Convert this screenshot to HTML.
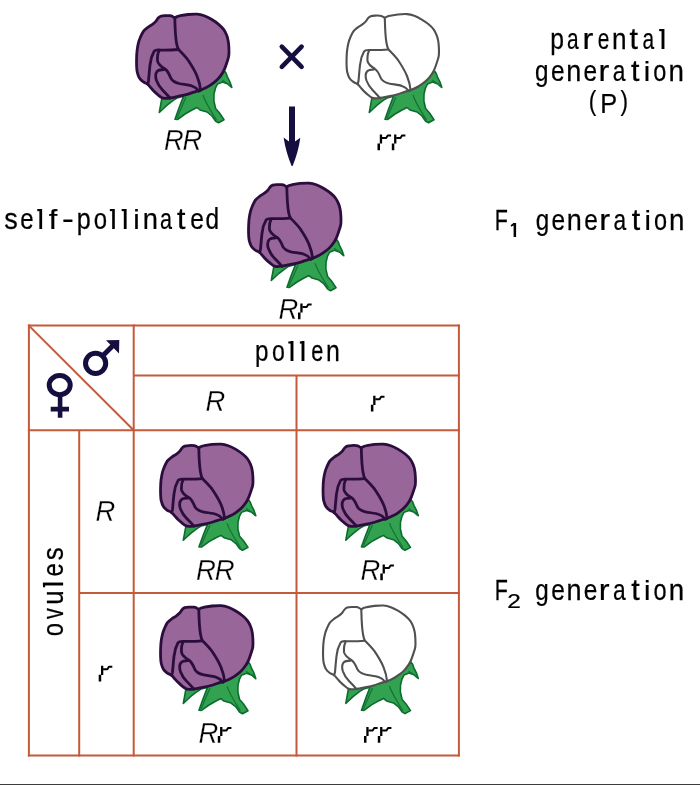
<!DOCTYPE html>
<html><head><meta charset="utf-8"><style>
html,body{margin:0;padding:0;background:#fff;width:700px;height:785px;overflow:hidden;}
svg{display:block;filter:blur(0.4px);}
#bl{position:absolute;left:0;top:784px;width:700px;height:1px;background:#3d3d3d;}
</style></head><body><svg width="700" height="785" viewBox="0 0 700 785"><line x1="27.9" y1="325.6" x2="459.9" y2="325.6" stroke="#c45a3a" stroke-width="2"/><line x1="133.7" y1="375.6" x2="459.9" y2="375.6" stroke="#c45a3a" stroke-width="2"/><line x1="27.9" y1="430.3" x2="459.9" y2="430.3" stroke="#c45a3a" stroke-width="2"/><line x1="79.2" y1="593" x2="459.9" y2="593" stroke="#c45a3a" stroke-width="2"/><line x1="27.9" y1="755.5" x2="459.9" y2="755.5" stroke="#c45a3a" stroke-width="2"/><line x1="28.9" y1="324.6" x2="28.9" y2="756.5" stroke="#c45a3a" stroke-width="2"/><line x1="79.2" y1="430.3" x2="79.2" y2="756.5" stroke="#c45a3a" stroke-width="2"/><line x1="133.7" y1="324.6" x2="133.7" y2="756.5" stroke="#c45a3a" stroke-width="2"/><line x1="296.5" y1="375.6" x2="296.5" y2="756.5" stroke="#c45a3a" stroke-width="2"/><line x1="458.9" y1="324.6" x2="458.9" y2="756.5" stroke="#c45a3a" stroke-width="2"/><line x1="28.9" y1="325.6" x2="133.7" y2="430.3" stroke="#c45a3a" stroke-width="2"/><g transform="translate(0,0) translate(0,13) scale(1,1.0) translate(0,-13)"><path d="M162,97.5 L159.3,112.5 L163,109 L167.1,105.2 L173.2,100.4 L177,98 L183.5,96.3 L179,108 L175,119.3 L177.5,119.5 L185,114 L192,110 L197,107.5 L200,110 L207,112 L212,116 L215.5,121 L218.5,122.8 L224,119.8 L219.5,113 L215.6,108.5 L213.9,101 L214,94 L215.5,88 L217.5,84 L222.5,82 L228,84 L231.8,87.5 L230,82 L227.5,77 L226,73 L224.5,71 L215,81 L208,87 L199,91 L190,93 L180,95 L170,97 Z" fill="#32a250" stroke="#0c6c2e" stroke-width="1.6" stroke-linejoin="round"/><path d="M186,97 C183,104 180,111 177,118" fill="none" stroke="#127435" stroke-width="1.2"/><path d="M203,95 C205,102 209,108 216.5,120" fill="none" stroke="#127435" stroke-width="1.2"/><path d="M222,80 C225.5,82 228.5,84 231,87" fill="none" stroke="#127435" stroke-width="1.2"/><path d="M174.80,17.90 C175.60,17.47 176.33,16.95 177.20,16.60 C178.07,16.25 178.20,16.15 180.00,15.80 C181.80,15.45 185.17,14.78 188.00,14.50 C190.83,14.22 194.28,13.88 197.00,14.10 C199.72,14.32 201.90,14.93 204.30,15.80 C206.70,16.67 209.02,17.88 211.40,19.30 C213.78,20.72 216.57,22.62 218.60,24.30 C220.63,25.98 222.27,27.60 223.60,29.40 C224.93,31.20 225.83,33.18 226.60,35.10 C227.37,37.02 227.82,38.75 228.20,40.90 C228.58,43.05 228.80,45.53 228.90,48.00 C229.00,50.47 229.08,53.45 228.80,55.70 C228.52,57.95 227.90,59.30 227.20,61.50 C226.50,63.70 225.50,66.80 224.60,68.90 C223.70,71.00 223.03,72.28 221.80,74.10 C220.57,75.92 218.92,78.08 217.20,79.80 C215.48,81.52 213.42,83.07 211.50,84.40 C209.58,85.73 207.62,86.83 205.70,87.80 C203.78,88.77 202.12,89.43 200.00,90.20 C197.88,90.97 195.17,91.70 193.00,92.40 C190.83,93.10 189.83,93.67 187.00,94.40 C184.17,95.13 178.83,96.22 176.00,96.80 C173.17,97.38 171.83,97.63 170.00,97.90 C168.17,98.17 166.42,98.47 165.00,98.40 C163.58,98.33 162.63,98.07 161.50,97.50 C160.37,96.93 159.45,96.05 158.20,95.00 C156.95,93.95 155.25,92.43 154.00,91.20 C152.75,89.97 151.77,88.77 150.70,87.60 C149.63,86.43 148.88,85.18 147.60,84.20 C146.32,83.22 144.37,82.73 143.00,81.70 C141.63,80.67 140.37,79.62 139.40,78.00 C138.43,76.38 137.67,74.07 137.20,72.00 C136.73,69.93 136.70,67.93 136.60,65.60 C136.50,63.27 136.52,60.55 136.60,58.00 C136.68,55.45 136.78,52.85 137.10,50.30 C137.42,47.75 137.97,44.83 138.50,42.70 C139.03,40.57 139.48,39.40 140.30,37.50 C141.12,35.60 142.13,33.00 143.40,31.30 C144.67,29.60 146.45,28.42 147.90,27.30 C149.35,26.18 150.82,25.55 152.10,24.60 C153.38,23.65 154.58,22.70 155.60,21.60 C156.62,20.50 157.33,18.90 158.20,18.00 C159.07,17.10 159.67,16.60 160.80,16.20 C161.93,15.80 163.47,15.68 165.00,15.60 C166.53,15.52 168.75,15.55 170.00,15.70 C171.25,15.85 171.70,16.13 172.50,16.50 C173.30,16.87 174.03,17.43 174.80,17.90 Z" fill="#996699" stroke="#2c0e3e" stroke-width="2.8" stroke-linejoin="round"/><path d="M174.8,17.9 C175,24 175,34 176.5,43 C177,46 177.5,48 178.5,49.5 C181,52 185,56 188,60 C192,66 195,71 197,76 C199,81 200.3,86 200.6,90.3" fill="none" stroke="#2c0e3e" stroke-width="2.8" stroke-linecap="round" stroke-linejoin="round"/><path d="M178.5,49.5 C172,50 166,50.2 160,50 C157,49.8 155,50 154,51.5 C152,55 150.5,60 150,65 C149.2,72 148.8,78 148.5,81 C148.2,82.5 147.8,83.5 147.6,84.2" fill="none" stroke="#2c0e3e" stroke-width="2.8" stroke-linecap="round" stroke-linejoin="round"/><path d="M159,51 C157.8,53 157.3,57 157.5,61 C158,63.5 161,66.5 165,69 C168,71 169.5,75 171,78.5 C172.5,81 175,82.5 179,83.5 C184,84.5 189,84.8 192,86 C195,87 197,88.5 199,91.2" fill="none" stroke="#2c0e3e" stroke-width="2.8" stroke-linecap="round" stroke-linejoin="round"/><path d="M164,69.5 C161,69.5 158.5,69.8 157,71.5 C155.5,73.5 155.3,77 156.5,80.5 C158,84.5 160,87.5 162.5,90 C165,92.5 167.5,95 170,98.2" fill="none" stroke="#2c0e3e" stroke-width="2.8" stroke-linecap="round" stroke-linejoin="round"/></g><g transform="translate(210,0) translate(0,13) scale(1,1.0) translate(0,-13)"><path d="M162,97.5 L159.3,112.5 L163,109 L167.1,105.2 L173.2,100.4 L177,98 L183.5,96.3 L179,108 L175,119.3 L177.5,119.5 L185,114 L192,110 L197,107.5 L200,110 L207,112 L212,116 L215.5,121 L218.5,122.8 L224,119.8 L219.5,113 L215.6,108.5 L213.9,101 L214,94 L215.5,88 L217.5,84 L222.5,82 L228,84 L231.8,87.5 L230,82 L227.5,77 L226,73 L224.5,71 L215,81 L208,87 L199,91 L190,93 L180,95 L170,97 Z" fill="#32a250" stroke="#0c6c2e" stroke-width="1.6" stroke-linejoin="round"/><path d="M186,97 C183,104 180,111 177,118" fill="none" stroke="#127435" stroke-width="1.2"/><path d="M203,95 C205,102 209,108 216.5,120" fill="none" stroke="#127435" stroke-width="1.2"/><path d="M222,80 C225.5,82 228.5,84 231,87" fill="none" stroke="#127435" stroke-width="1.2"/><path d="M174.80,17.90 C175.60,17.47 176.33,16.95 177.20,16.60 C178.07,16.25 178.20,16.15 180.00,15.80 C181.80,15.45 185.17,14.78 188.00,14.50 C190.83,14.22 194.28,13.88 197.00,14.10 C199.72,14.32 201.90,14.93 204.30,15.80 C206.70,16.67 209.02,17.88 211.40,19.30 C213.78,20.72 216.57,22.62 218.60,24.30 C220.63,25.98 222.27,27.60 223.60,29.40 C224.93,31.20 225.83,33.18 226.60,35.10 C227.37,37.02 227.82,38.75 228.20,40.90 C228.58,43.05 228.80,45.53 228.90,48.00 C229.00,50.47 229.08,53.45 228.80,55.70 C228.52,57.95 227.90,59.30 227.20,61.50 C226.50,63.70 225.50,66.80 224.60,68.90 C223.70,71.00 223.03,72.28 221.80,74.10 C220.57,75.92 218.92,78.08 217.20,79.80 C215.48,81.52 213.42,83.07 211.50,84.40 C209.58,85.73 207.62,86.83 205.70,87.80 C203.78,88.77 202.12,89.43 200.00,90.20 C197.88,90.97 195.17,91.70 193.00,92.40 C190.83,93.10 189.83,93.67 187.00,94.40 C184.17,95.13 178.83,96.22 176.00,96.80 C173.17,97.38 171.83,97.63 170.00,97.90 C168.17,98.17 166.42,98.47 165.00,98.40 C163.58,98.33 162.63,98.07 161.50,97.50 C160.37,96.93 159.45,96.05 158.20,95.00 C156.95,93.95 155.25,92.43 154.00,91.20 C152.75,89.97 151.77,88.77 150.70,87.60 C149.63,86.43 148.88,85.18 147.60,84.20 C146.32,83.22 144.37,82.73 143.00,81.70 C141.63,80.67 140.37,79.62 139.40,78.00 C138.43,76.38 137.67,74.07 137.20,72.00 C136.73,69.93 136.70,67.93 136.60,65.60 C136.50,63.27 136.52,60.55 136.60,58.00 C136.68,55.45 136.78,52.85 137.10,50.30 C137.42,47.75 137.97,44.83 138.50,42.70 C139.03,40.57 139.48,39.40 140.30,37.50 C141.12,35.60 142.13,33.00 143.40,31.30 C144.67,29.60 146.45,28.42 147.90,27.30 C149.35,26.18 150.82,25.55 152.10,24.60 C153.38,23.65 154.58,22.70 155.60,21.60 C156.62,20.50 157.33,18.90 158.20,18.00 C159.07,17.10 159.67,16.60 160.80,16.20 C161.93,15.80 163.47,15.68 165.00,15.60 C166.53,15.52 168.75,15.55 170.00,15.70 C171.25,15.85 171.70,16.13 172.50,16.50 C173.30,16.87 174.03,17.43 174.80,17.90 Z" fill="#ffffff" stroke="#505050" stroke-width="2.1" stroke-linejoin="round"/><path d="M174.8,17.9 C175,24 175,34 176.5,43 C177,46 177.5,48 178.5,49.5 C181,52 185,56 188,60 C192,66 195,71 197,76 C199,81 200.3,86 200.6,90.3" fill="none" stroke="#505050" stroke-width="2.1" stroke-linecap="round" stroke-linejoin="round"/><path d="M178.5,49.5 C172,50 166,50.2 160,50 C157,49.8 155,50 154,51.5 C152,55 150.5,60 150,65 C149.2,72 148.8,78 148.5,81 C148.2,82.5 147.8,83.5 147.6,84.2" fill="none" stroke="#505050" stroke-width="2.1" stroke-linecap="round" stroke-linejoin="round"/><path d="M159,51 C157.8,53 157.3,57 157.5,61 C158,63.5 161,66.5 165,69 C168,71 169.5,75 171,78.5 C172.5,81 175,82.5 179,83.5 C184,84.5 189,84.8 192,86 C195,87 197,88.5 199,91.2" fill="none" stroke="#505050" stroke-width="2.1" stroke-linecap="round" stroke-linejoin="round"/><path d="M164,69.5 C161,69.5 158.5,69.8 157,71.5 C155.5,73.5 155.3,77 156.5,80.5 C158,84.5 160,87.5 162.5,90 C165,92.5 167.5,95 170,98.2" fill="none" stroke="#505050" stroke-width="2.1" stroke-linecap="round" stroke-linejoin="round"/></g><g transform="translate(112,169) translate(0,13) scale(1,0.99) translate(0,-13)"><path d="M162,97.5 L159.3,112.5 L163,109 L167.1,105.2 L173.2,100.4 L177,98 L183.5,96.3 L179,108 L175,119.3 L177.5,119.5 L185,114 L192,110 L197,107.5 L200,110 L207,112 L212,116 L215.5,121 L218.5,122.8 L224,119.8 L219.5,113 L215.6,108.5 L213.9,101 L214,94 L215.5,88 L217.5,84 L222.5,82 L228,84 L231.8,87.5 L230,82 L227.5,77 L226,73 L224.5,71 L215,81 L208,87 L199,91 L190,93 L180,95 L170,97 Z" fill="#32a250" stroke="#0c6c2e" stroke-width="1.6" stroke-linejoin="round"/><path d="M186,97 C183,104 180,111 177,118" fill="none" stroke="#127435" stroke-width="1.2"/><path d="M203,95 C205,102 209,108 216.5,120" fill="none" stroke="#127435" stroke-width="1.2"/><path d="M222,80 C225.5,82 228.5,84 231,87" fill="none" stroke="#127435" stroke-width="1.2"/><path d="M174.80,17.90 C175.60,17.47 176.33,16.95 177.20,16.60 C178.07,16.25 178.20,16.15 180.00,15.80 C181.80,15.45 185.17,14.78 188.00,14.50 C190.83,14.22 194.28,13.88 197.00,14.10 C199.72,14.32 201.90,14.93 204.30,15.80 C206.70,16.67 209.02,17.88 211.40,19.30 C213.78,20.72 216.57,22.62 218.60,24.30 C220.63,25.98 222.27,27.60 223.60,29.40 C224.93,31.20 225.83,33.18 226.60,35.10 C227.37,37.02 227.82,38.75 228.20,40.90 C228.58,43.05 228.80,45.53 228.90,48.00 C229.00,50.47 229.08,53.45 228.80,55.70 C228.52,57.95 227.90,59.30 227.20,61.50 C226.50,63.70 225.50,66.80 224.60,68.90 C223.70,71.00 223.03,72.28 221.80,74.10 C220.57,75.92 218.92,78.08 217.20,79.80 C215.48,81.52 213.42,83.07 211.50,84.40 C209.58,85.73 207.62,86.83 205.70,87.80 C203.78,88.77 202.12,89.43 200.00,90.20 C197.88,90.97 195.17,91.70 193.00,92.40 C190.83,93.10 189.83,93.67 187.00,94.40 C184.17,95.13 178.83,96.22 176.00,96.80 C173.17,97.38 171.83,97.63 170.00,97.90 C168.17,98.17 166.42,98.47 165.00,98.40 C163.58,98.33 162.63,98.07 161.50,97.50 C160.37,96.93 159.45,96.05 158.20,95.00 C156.95,93.95 155.25,92.43 154.00,91.20 C152.75,89.97 151.77,88.77 150.70,87.60 C149.63,86.43 148.88,85.18 147.60,84.20 C146.32,83.22 144.37,82.73 143.00,81.70 C141.63,80.67 140.37,79.62 139.40,78.00 C138.43,76.38 137.67,74.07 137.20,72.00 C136.73,69.93 136.70,67.93 136.60,65.60 C136.50,63.27 136.52,60.55 136.60,58.00 C136.68,55.45 136.78,52.85 137.10,50.30 C137.42,47.75 137.97,44.83 138.50,42.70 C139.03,40.57 139.48,39.40 140.30,37.50 C141.12,35.60 142.13,33.00 143.40,31.30 C144.67,29.60 146.45,28.42 147.90,27.30 C149.35,26.18 150.82,25.55 152.10,24.60 C153.38,23.65 154.58,22.70 155.60,21.60 C156.62,20.50 157.33,18.90 158.20,18.00 C159.07,17.10 159.67,16.60 160.80,16.20 C161.93,15.80 163.47,15.68 165.00,15.60 C166.53,15.52 168.75,15.55 170.00,15.70 C171.25,15.85 171.70,16.13 172.50,16.50 C173.30,16.87 174.03,17.43 174.80,17.90 Z" fill="#996699" stroke="#2c0e3e" stroke-width="2.8" stroke-linejoin="round"/><path d="M174.8,17.9 C175,24 175,34 176.5,43 C177,46 177.5,48 178.5,49.5 C181,52 185,56 188,60 C192,66 195,71 197,76 C199,81 200.3,86 200.6,90.3" fill="none" stroke="#2c0e3e" stroke-width="2.8" stroke-linecap="round" stroke-linejoin="round"/><path d="M178.5,49.5 C172,50 166,50.2 160,50 C157,49.8 155,50 154,51.5 C152,55 150.5,60 150,65 C149.2,72 148.8,78 148.5,81 C148.2,82.5 147.8,83.5 147.6,84.2" fill="none" stroke="#2c0e3e" stroke-width="2.8" stroke-linecap="round" stroke-linejoin="round"/><path d="M159,51 C157.8,53 157.3,57 157.5,61 C158,63.5 161,66.5 165,69 C168,71 169.5,75 171,78.5 C172.5,81 175,82.5 179,83.5 C184,84.5 189,84.8 192,86 C195,87 197,88.5 199,91.2" fill="none" stroke="#2c0e3e" stroke-width="2.8" stroke-linecap="round" stroke-linejoin="round"/><path d="M164,69.5 C161,69.5 158.5,69.8 157,71.5 C155.5,73.5 155.3,77 156.5,80.5 C158,84.5 160,87.5 162.5,90 C165,92.5 167.5,95 170,98.2" fill="none" stroke="#2c0e3e" stroke-width="2.8" stroke-linecap="round" stroke-linejoin="round"/></g><g transform="translate(24,430) translate(0,13) scale(1,0.977) translate(0,-13)"><path d="M162,97.5 L159.3,112.5 L163,109 L167.1,105.2 L173.2,100.4 L177,98 L183.5,96.3 L179,108 L175,119.3 L177.5,119.5 L185,114 L192,110 L197,107.5 L200,110 L207,112 L212,116 L215.5,121 L218.5,122.8 L224,119.8 L219.5,113 L215.6,108.5 L213.9,101 L214,94 L215.5,88 L217.5,84 L222.5,82 L228,84 L231.8,87.5 L230,82 L227.5,77 L226,73 L224.5,71 L215,81 L208,87 L199,91 L190,93 L180,95 L170,97 Z" fill="#32a250" stroke="#0c6c2e" stroke-width="1.6" stroke-linejoin="round"/><path d="M186,97 C183,104 180,111 177,118" fill="none" stroke="#127435" stroke-width="1.2"/><path d="M203,95 C205,102 209,108 216.5,120" fill="none" stroke="#127435" stroke-width="1.2"/><path d="M222,80 C225.5,82 228.5,84 231,87" fill="none" stroke="#127435" stroke-width="1.2"/><path d="M174.80,17.90 C175.60,17.47 176.33,16.95 177.20,16.60 C178.07,16.25 178.20,16.15 180.00,15.80 C181.80,15.45 185.17,14.78 188.00,14.50 C190.83,14.22 194.28,13.88 197.00,14.10 C199.72,14.32 201.90,14.93 204.30,15.80 C206.70,16.67 209.02,17.88 211.40,19.30 C213.78,20.72 216.57,22.62 218.60,24.30 C220.63,25.98 222.27,27.60 223.60,29.40 C224.93,31.20 225.83,33.18 226.60,35.10 C227.37,37.02 227.82,38.75 228.20,40.90 C228.58,43.05 228.80,45.53 228.90,48.00 C229.00,50.47 229.08,53.45 228.80,55.70 C228.52,57.95 227.90,59.30 227.20,61.50 C226.50,63.70 225.50,66.80 224.60,68.90 C223.70,71.00 223.03,72.28 221.80,74.10 C220.57,75.92 218.92,78.08 217.20,79.80 C215.48,81.52 213.42,83.07 211.50,84.40 C209.58,85.73 207.62,86.83 205.70,87.80 C203.78,88.77 202.12,89.43 200.00,90.20 C197.88,90.97 195.17,91.70 193.00,92.40 C190.83,93.10 189.83,93.67 187.00,94.40 C184.17,95.13 178.83,96.22 176.00,96.80 C173.17,97.38 171.83,97.63 170.00,97.90 C168.17,98.17 166.42,98.47 165.00,98.40 C163.58,98.33 162.63,98.07 161.50,97.50 C160.37,96.93 159.45,96.05 158.20,95.00 C156.95,93.95 155.25,92.43 154.00,91.20 C152.75,89.97 151.77,88.77 150.70,87.60 C149.63,86.43 148.88,85.18 147.60,84.20 C146.32,83.22 144.37,82.73 143.00,81.70 C141.63,80.67 140.37,79.62 139.40,78.00 C138.43,76.38 137.67,74.07 137.20,72.00 C136.73,69.93 136.70,67.93 136.60,65.60 C136.50,63.27 136.52,60.55 136.60,58.00 C136.68,55.45 136.78,52.85 137.10,50.30 C137.42,47.75 137.97,44.83 138.50,42.70 C139.03,40.57 139.48,39.40 140.30,37.50 C141.12,35.60 142.13,33.00 143.40,31.30 C144.67,29.60 146.45,28.42 147.90,27.30 C149.35,26.18 150.82,25.55 152.10,24.60 C153.38,23.65 154.58,22.70 155.60,21.60 C156.62,20.50 157.33,18.90 158.20,18.00 C159.07,17.10 159.67,16.60 160.80,16.20 C161.93,15.80 163.47,15.68 165.00,15.60 C166.53,15.52 168.75,15.55 170.00,15.70 C171.25,15.85 171.70,16.13 172.50,16.50 C173.30,16.87 174.03,17.43 174.80,17.90 Z" fill="#996699" stroke="#2c0e3e" stroke-width="2.8" stroke-linejoin="round"/><path d="M174.8,17.9 C175,24 175,34 176.5,43 C177,46 177.5,48 178.5,49.5 C181,52 185,56 188,60 C192,66 195,71 197,76 C199,81 200.3,86 200.6,90.3" fill="none" stroke="#2c0e3e" stroke-width="2.8" stroke-linecap="round" stroke-linejoin="round"/><path d="M178.5,49.5 C172,50 166,50.2 160,50 C157,49.8 155,50 154,51.5 C152,55 150.5,60 150,65 C149.2,72 148.8,78 148.5,81 C148.2,82.5 147.8,83.5 147.6,84.2" fill="none" stroke="#2c0e3e" stroke-width="2.8" stroke-linecap="round" stroke-linejoin="round"/><path d="M159,51 C157.8,53 157.3,57 157.5,61 C158,63.5 161,66.5 165,69 C168,71 169.5,75 171,78.5 C172.5,81 175,82.5 179,83.5 C184,84.5 189,84.8 192,86 C195,87 197,88.5 199,91.2" fill="none" stroke="#2c0e3e" stroke-width="2.8" stroke-linecap="round" stroke-linejoin="round"/><path d="M164,69.5 C161,69.5 158.5,69.8 157,71.5 C155.5,73.5 155.3,77 156.5,80.5 C158,84.5 160,87.5 162.5,90 C165,92.5 167.5,95 170,98.2" fill="none" stroke="#2c0e3e" stroke-width="2.8" stroke-linecap="round" stroke-linejoin="round"/></g><g transform="translate(186.5,430) translate(0,13) scale(1,0.977) translate(0,-13)"><path d="M162,97.5 L159.3,112.5 L163,109 L167.1,105.2 L173.2,100.4 L177,98 L183.5,96.3 L179,108 L175,119.3 L177.5,119.5 L185,114 L192,110 L197,107.5 L200,110 L207,112 L212,116 L215.5,121 L218.5,122.8 L224,119.8 L219.5,113 L215.6,108.5 L213.9,101 L214,94 L215.5,88 L217.5,84 L222.5,82 L228,84 L231.8,87.5 L230,82 L227.5,77 L226,73 L224.5,71 L215,81 L208,87 L199,91 L190,93 L180,95 L170,97 Z" fill="#32a250" stroke="#0c6c2e" stroke-width="1.6" stroke-linejoin="round"/><path d="M186,97 C183,104 180,111 177,118" fill="none" stroke="#127435" stroke-width="1.2"/><path d="M203,95 C205,102 209,108 216.5,120" fill="none" stroke="#127435" stroke-width="1.2"/><path d="M222,80 C225.5,82 228.5,84 231,87" fill="none" stroke="#127435" stroke-width="1.2"/><path d="M174.80,17.90 C175.60,17.47 176.33,16.95 177.20,16.60 C178.07,16.25 178.20,16.15 180.00,15.80 C181.80,15.45 185.17,14.78 188.00,14.50 C190.83,14.22 194.28,13.88 197.00,14.10 C199.72,14.32 201.90,14.93 204.30,15.80 C206.70,16.67 209.02,17.88 211.40,19.30 C213.78,20.72 216.57,22.62 218.60,24.30 C220.63,25.98 222.27,27.60 223.60,29.40 C224.93,31.20 225.83,33.18 226.60,35.10 C227.37,37.02 227.82,38.75 228.20,40.90 C228.58,43.05 228.80,45.53 228.90,48.00 C229.00,50.47 229.08,53.45 228.80,55.70 C228.52,57.95 227.90,59.30 227.20,61.50 C226.50,63.70 225.50,66.80 224.60,68.90 C223.70,71.00 223.03,72.28 221.80,74.10 C220.57,75.92 218.92,78.08 217.20,79.80 C215.48,81.52 213.42,83.07 211.50,84.40 C209.58,85.73 207.62,86.83 205.70,87.80 C203.78,88.77 202.12,89.43 200.00,90.20 C197.88,90.97 195.17,91.70 193.00,92.40 C190.83,93.10 189.83,93.67 187.00,94.40 C184.17,95.13 178.83,96.22 176.00,96.80 C173.17,97.38 171.83,97.63 170.00,97.90 C168.17,98.17 166.42,98.47 165.00,98.40 C163.58,98.33 162.63,98.07 161.50,97.50 C160.37,96.93 159.45,96.05 158.20,95.00 C156.95,93.95 155.25,92.43 154.00,91.20 C152.75,89.97 151.77,88.77 150.70,87.60 C149.63,86.43 148.88,85.18 147.60,84.20 C146.32,83.22 144.37,82.73 143.00,81.70 C141.63,80.67 140.37,79.62 139.40,78.00 C138.43,76.38 137.67,74.07 137.20,72.00 C136.73,69.93 136.70,67.93 136.60,65.60 C136.50,63.27 136.52,60.55 136.60,58.00 C136.68,55.45 136.78,52.85 137.10,50.30 C137.42,47.75 137.97,44.83 138.50,42.70 C139.03,40.57 139.48,39.40 140.30,37.50 C141.12,35.60 142.13,33.00 143.40,31.30 C144.67,29.60 146.45,28.42 147.90,27.30 C149.35,26.18 150.82,25.55 152.10,24.60 C153.38,23.65 154.58,22.70 155.60,21.60 C156.62,20.50 157.33,18.90 158.20,18.00 C159.07,17.10 159.67,16.60 160.80,16.20 C161.93,15.80 163.47,15.68 165.00,15.60 C166.53,15.52 168.75,15.55 170.00,15.70 C171.25,15.85 171.70,16.13 172.50,16.50 C173.30,16.87 174.03,17.43 174.80,17.90 Z" fill="#996699" stroke="#2c0e3e" stroke-width="2.8" stroke-linejoin="round"/><path d="M174.8,17.9 C175,24 175,34 176.5,43 C177,46 177.5,48 178.5,49.5 C181,52 185,56 188,60 C192,66 195,71 197,76 C199,81 200.3,86 200.6,90.3" fill="none" stroke="#2c0e3e" stroke-width="2.8" stroke-linecap="round" stroke-linejoin="round"/><path d="M178.5,49.5 C172,50 166,50.2 160,50 C157,49.8 155,50 154,51.5 C152,55 150.5,60 150,65 C149.2,72 148.8,78 148.5,81 C148.2,82.5 147.8,83.5 147.6,84.2" fill="none" stroke="#2c0e3e" stroke-width="2.8" stroke-linecap="round" stroke-linejoin="round"/><path d="M159,51 C157.8,53 157.3,57 157.5,61 C158,63.5 161,66.5 165,69 C168,71 169.5,75 171,78.5 C172.5,81 175,82.5 179,83.5 C184,84.5 189,84.8 192,86 C195,87 197,88.5 199,91.2" fill="none" stroke="#2c0e3e" stroke-width="2.8" stroke-linecap="round" stroke-linejoin="round"/><path d="M164,69.5 C161,69.5 158.5,69.8 157,71.5 C155.5,73.5 155.3,77 156.5,80.5 C158,84.5 160,87.5 162.5,90 C165,92.5 167.5,95 170,98.2" fill="none" stroke="#2c0e3e" stroke-width="2.8" stroke-linecap="round" stroke-linejoin="round"/></g><g transform="translate(24,591.5) translate(0,13) scale(1,0.995) translate(0,-13)"><path d="M162,97.5 L159.3,112.5 L163,109 L167.1,105.2 L173.2,100.4 L177,98 L183.5,96.3 L179,108 L175,119.3 L177.5,119.5 L185,114 L192,110 L197,107.5 L200,110 L207,112 L212,116 L215.5,121 L218.5,122.8 L224,119.8 L219.5,113 L215.6,108.5 L213.9,101 L214,94 L215.5,88 L217.5,84 L222.5,82 L228,84 L231.8,87.5 L230,82 L227.5,77 L226,73 L224.5,71 L215,81 L208,87 L199,91 L190,93 L180,95 L170,97 Z" fill="#32a250" stroke="#0c6c2e" stroke-width="1.6" stroke-linejoin="round"/><path d="M186,97 C183,104 180,111 177,118" fill="none" stroke="#127435" stroke-width="1.2"/><path d="M203,95 C205,102 209,108 216.5,120" fill="none" stroke="#127435" stroke-width="1.2"/><path d="M222,80 C225.5,82 228.5,84 231,87" fill="none" stroke="#127435" stroke-width="1.2"/><path d="M174.80,17.90 C175.60,17.47 176.33,16.95 177.20,16.60 C178.07,16.25 178.20,16.15 180.00,15.80 C181.80,15.45 185.17,14.78 188.00,14.50 C190.83,14.22 194.28,13.88 197.00,14.10 C199.72,14.32 201.90,14.93 204.30,15.80 C206.70,16.67 209.02,17.88 211.40,19.30 C213.78,20.72 216.57,22.62 218.60,24.30 C220.63,25.98 222.27,27.60 223.60,29.40 C224.93,31.20 225.83,33.18 226.60,35.10 C227.37,37.02 227.82,38.75 228.20,40.90 C228.58,43.05 228.80,45.53 228.90,48.00 C229.00,50.47 229.08,53.45 228.80,55.70 C228.52,57.95 227.90,59.30 227.20,61.50 C226.50,63.70 225.50,66.80 224.60,68.90 C223.70,71.00 223.03,72.28 221.80,74.10 C220.57,75.92 218.92,78.08 217.20,79.80 C215.48,81.52 213.42,83.07 211.50,84.40 C209.58,85.73 207.62,86.83 205.70,87.80 C203.78,88.77 202.12,89.43 200.00,90.20 C197.88,90.97 195.17,91.70 193.00,92.40 C190.83,93.10 189.83,93.67 187.00,94.40 C184.17,95.13 178.83,96.22 176.00,96.80 C173.17,97.38 171.83,97.63 170.00,97.90 C168.17,98.17 166.42,98.47 165.00,98.40 C163.58,98.33 162.63,98.07 161.50,97.50 C160.37,96.93 159.45,96.05 158.20,95.00 C156.95,93.95 155.25,92.43 154.00,91.20 C152.75,89.97 151.77,88.77 150.70,87.60 C149.63,86.43 148.88,85.18 147.60,84.20 C146.32,83.22 144.37,82.73 143.00,81.70 C141.63,80.67 140.37,79.62 139.40,78.00 C138.43,76.38 137.67,74.07 137.20,72.00 C136.73,69.93 136.70,67.93 136.60,65.60 C136.50,63.27 136.52,60.55 136.60,58.00 C136.68,55.45 136.78,52.85 137.10,50.30 C137.42,47.75 137.97,44.83 138.50,42.70 C139.03,40.57 139.48,39.40 140.30,37.50 C141.12,35.60 142.13,33.00 143.40,31.30 C144.67,29.60 146.45,28.42 147.90,27.30 C149.35,26.18 150.82,25.55 152.10,24.60 C153.38,23.65 154.58,22.70 155.60,21.60 C156.62,20.50 157.33,18.90 158.20,18.00 C159.07,17.10 159.67,16.60 160.80,16.20 C161.93,15.80 163.47,15.68 165.00,15.60 C166.53,15.52 168.75,15.55 170.00,15.70 C171.25,15.85 171.70,16.13 172.50,16.50 C173.30,16.87 174.03,17.43 174.80,17.90 Z" fill="#996699" stroke="#2c0e3e" stroke-width="2.8" stroke-linejoin="round"/><path d="M174.8,17.9 C175,24 175,34 176.5,43 C177,46 177.5,48 178.5,49.5 C181,52 185,56 188,60 C192,66 195,71 197,76 C199,81 200.3,86 200.6,90.3" fill="none" stroke="#2c0e3e" stroke-width="2.8" stroke-linecap="round" stroke-linejoin="round"/><path d="M178.5,49.5 C172,50 166,50.2 160,50 C157,49.8 155,50 154,51.5 C152,55 150.5,60 150,65 C149.2,72 148.8,78 148.5,81 C148.2,82.5 147.8,83.5 147.6,84.2" fill="none" stroke="#2c0e3e" stroke-width="2.8" stroke-linecap="round" stroke-linejoin="round"/><path d="M159,51 C157.8,53 157.3,57 157.5,61 C158,63.5 161,66.5 165,69 C168,71 169.5,75 171,78.5 C172.5,81 175,82.5 179,83.5 C184,84.5 189,84.8 192,86 C195,87 197,88.5 199,91.2" fill="none" stroke="#2c0e3e" stroke-width="2.8" stroke-linecap="round" stroke-linejoin="round"/><path d="M164,69.5 C161,69.5 158.5,69.8 157,71.5 C155.5,73.5 155.3,77 156.5,80.5 C158,84.5 160,87.5 162.5,90 C165,92.5 167.5,95 170,98.2" fill="none" stroke="#2c0e3e" stroke-width="2.8" stroke-linecap="round" stroke-linejoin="round"/></g><g transform="translate(186.5,591.4) translate(0,13) scale(1,0.995) translate(0,-13)"><path d="M162,97.5 L159.3,112.5 L163,109 L167.1,105.2 L173.2,100.4 L177,98 L183.5,96.3 L179,108 L175,119.3 L177.5,119.5 L185,114 L192,110 L197,107.5 L200,110 L207,112 L212,116 L215.5,121 L218.5,122.8 L224,119.8 L219.5,113 L215.6,108.5 L213.9,101 L214,94 L215.5,88 L217.5,84 L222.5,82 L228,84 L231.8,87.5 L230,82 L227.5,77 L226,73 L224.5,71 L215,81 L208,87 L199,91 L190,93 L180,95 L170,97 Z" fill="#32a250" stroke="#0c6c2e" stroke-width="1.6" stroke-linejoin="round"/><path d="M186,97 C183,104 180,111 177,118" fill="none" stroke="#127435" stroke-width="1.2"/><path d="M203,95 C205,102 209,108 216.5,120" fill="none" stroke="#127435" stroke-width="1.2"/><path d="M222,80 C225.5,82 228.5,84 231,87" fill="none" stroke="#127435" stroke-width="1.2"/><path d="M174.80,17.90 C175.60,17.47 176.33,16.95 177.20,16.60 C178.07,16.25 178.20,16.15 180.00,15.80 C181.80,15.45 185.17,14.78 188.00,14.50 C190.83,14.22 194.28,13.88 197.00,14.10 C199.72,14.32 201.90,14.93 204.30,15.80 C206.70,16.67 209.02,17.88 211.40,19.30 C213.78,20.72 216.57,22.62 218.60,24.30 C220.63,25.98 222.27,27.60 223.60,29.40 C224.93,31.20 225.83,33.18 226.60,35.10 C227.37,37.02 227.82,38.75 228.20,40.90 C228.58,43.05 228.80,45.53 228.90,48.00 C229.00,50.47 229.08,53.45 228.80,55.70 C228.52,57.95 227.90,59.30 227.20,61.50 C226.50,63.70 225.50,66.80 224.60,68.90 C223.70,71.00 223.03,72.28 221.80,74.10 C220.57,75.92 218.92,78.08 217.20,79.80 C215.48,81.52 213.42,83.07 211.50,84.40 C209.58,85.73 207.62,86.83 205.70,87.80 C203.78,88.77 202.12,89.43 200.00,90.20 C197.88,90.97 195.17,91.70 193.00,92.40 C190.83,93.10 189.83,93.67 187.00,94.40 C184.17,95.13 178.83,96.22 176.00,96.80 C173.17,97.38 171.83,97.63 170.00,97.90 C168.17,98.17 166.42,98.47 165.00,98.40 C163.58,98.33 162.63,98.07 161.50,97.50 C160.37,96.93 159.45,96.05 158.20,95.00 C156.95,93.95 155.25,92.43 154.00,91.20 C152.75,89.97 151.77,88.77 150.70,87.60 C149.63,86.43 148.88,85.18 147.60,84.20 C146.32,83.22 144.37,82.73 143.00,81.70 C141.63,80.67 140.37,79.62 139.40,78.00 C138.43,76.38 137.67,74.07 137.20,72.00 C136.73,69.93 136.70,67.93 136.60,65.60 C136.50,63.27 136.52,60.55 136.60,58.00 C136.68,55.45 136.78,52.85 137.10,50.30 C137.42,47.75 137.97,44.83 138.50,42.70 C139.03,40.57 139.48,39.40 140.30,37.50 C141.12,35.60 142.13,33.00 143.40,31.30 C144.67,29.60 146.45,28.42 147.90,27.30 C149.35,26.18 150.82,25.55 152.10,24.60 C153.38,23.65 154.58,22.70 155.60,21.60 C156.62,20.50 157.33,18.90 158.20,18.00 C159.07,17.10 159.67,16.60 160.80,16.20 C161.93,15.80 163.47,15.68 165.00,15.60 C166.53,15.52 168.75,15.55 170.00,15.70 C171.25,15.85 171.70,16.13 172.50,16.50 C173.30,16.87 174.03,17.43 174.80,17.90 Z" fill="#ffffff" stroke="#505050" stroke-width="2.1" stroke-linejoin="round"/><path d="M174.8,17.9 C175,24 175,34 176.5,43 C177,46 177.5,48 178.5,49.5 C181,52 185,56 188,60 C192,66 195,71 197,76 C199,81 200.3,86 200.6,90.3" fill="none" stroke="#505050" stroke-width="2.1" stroke-linecap="round" stroke-linejoin="round"/><path d="M178.5,49.5 C172,50 166,50.2 160,50 C157,49.8 155,50 154,51.5 C152,55 150.5,60 150,65 C149.2,72 148.8,78 148.5,81 C148.2,82.5 147.8,83.5 147.6,84.2" fill="none" stroke="#505050" stroke-width="2.1" stroke-linecap="round" stroke-linejoin="round"/><path d="M159,51 C157.8,53 157.3,57 157.5,61 C158,63.5 161,66.5 165,69 C168,71 169.5,75 171,78.5 C172.5,81 175,82.5 179,83.5 C184,84.5 189,84.8 192,86 C195,87 197,88.5 199,91.2" fill="none" stroke="#505050" stroke-width="2.1" stroke-linecap="round" stroke-linejoin="round"/><path d="M164,69.5 C161,69.5 158.5,69.8 157,71.5 C155.5,73.5 155.3,77 156.5,80.5 C158,84.5 160,87.5 162.5,90 C165,92.5 167.5,95 170,98.2" fill="none" stroke="#505050" stroke-width="2.1" stroke-linecap="round" stroke-linejoin="round"/></g><path d="M281.8,46.6 L301.6,66.8 M301.6,46.6 L281.8,66.8" stroke="#150f3f" stroke-width="4.6" stroke-linecap="round"/><path d="M289,106.5 H295 V141.5 L300.3,137.8 Q298.4,152 292.6,166 L291.6,166 Q285.8,152 283.6,137.5 L289,141.5 Z" fill="#150f3f"/><circle cx="95.6" cy="363.3" r="10.1" fill="none" stroke="#150f3f" stroke-width="5"/><path d="M102,356.5 L115,343.5" stroke="#150f3f" stroke-width="5"/><path d="M106,340.3 L119.3,340 L119,353.6 Z" fill="#150f3f"/><ellipse cx="59.7" cy="385.1" rx="10.5" ry="9.6" fill="none" stroke="#150f3f" stroke-width="5"/><path d="M60.1,394 V417.7 M50.7,409.1 H69" stroke="#150f3f" stroke-width="4.6"/><g transform="translate(0,229)"><text transform="translate(4.30,0.0) scale(0.933,1.0)" font-family="Liberation Sans" font-size="29" fill="#000" stroke="#000" stroke-width="0.25">s</text><text transform="translate(20.13,0.0) scale(0.830,1.0)" font-family="Liberation Sans" font-size="29" fill="#000" stroke="#000" stroke-width="0.25">e</text><rect x="37.25" y="-19.96" width="2.85" height="2.1" fill="#000"/><text transform="translate(37.55,0.0) scale(1.000,0.95)" font-family="Liberation Sans" font-size="29" fill="#000" stroke="#000" stroke-width="0.25">l</text><text transform="translate(48.83,0.0) scale(1.050,0.95)" font-family="Liberation Sans" font-size="29" fill="#000" stroke="#000" stroke-width="0.25">f</text><text transform="translate(61.91,0.0) scale(1.220,1.0)" font-family="Liberation Sans" font-size="29" fill="#000" stroke="#000" stroke-width="0.25">-</text><text transform="translate(76.63,0.0) scale(0.866,1.0)" font-family="Liberation Sans" font-size="29" fill="#000" stroke="#000" stroke-width="0.25">p</text><text transform="translate(93.85,0.0) scale(0.825,1.0)" font-family="Liberation Sans" font-size="29" fill="#000" stroke="#000" stroke-width="0.25">o</text><rect x="109.85" y="-19.96" width="2.95" height="2.1" fill="#000"/><text transform="translate(110.25,0.0) scale(1.000,0.95)" font-family="Liberation Sans" font-size="29" fill="#000" stroke="#000" stroke-width="0.25">l</text><rect x="121.65" y="-19.96" width="2.95" height="2.1" fill="#000"/><text transform="translate(122.05,0.0) scale(1.000,0.95)" font-family="Liberation Sans" font-size="29" fill="#000" stroke="#000" stroke-width="0.25">l</text><text transform="translate(133.24,0.0) scale(1.000,0.95)" font-family="Liberation Sans" font-size="29" fill="#000" stroke="#000" stroke-width="0.25">i</text><text transform="translate(142.74,0.0) scale(0.942,1.0)" font-family="Liberation Sans" font-size="29" fill="#000" stroke="#000" stroke-width="0.25">n</text><text transform="translate(159.93,0.0) scale(0.745,1.0)" font-family="Liberation Sans" font-size="29" fill="#000" stroke="#000" stroke-width="0.25">a</text><text transform="translate(176.90,0.0) scale(1.050,1.0)" font-family="Liberation Sans" font-size="29" fill="#000" stroke="#000" stroke-width="0.25">t</text><text transform="translate(190.20,0.0) scale(0.852,1.0)" font-family="Liberation Sans" font-size="29" fill="#000" stroke="#000" stroke-width="0.25">e</text><text transform="translate(205.42,0.0) scale(0.843,1.0)" font-family="Liberation Sans" font-size="29" fill="#000" stroke="#000" stroke-width="0.25">d</text></g><g transform="translate(0,49)"><text transform="translate(550.16,0.0) scale(0.851,1.0)" font-family="Liberation Sans" font-size="29" fill="#000" stroke="#000" stroke-width="0.25">p</text><text transform="translate(567.05,0.0) scale(0.720,1.0)" font-family="Liberation Sans" font-size="29" fill="#000" stroke="#000" stroke-width="0.25">a</text><text transform="translate(582.43,0.0) scale(1.120,1.0)" font-family="Liberation Sans" font-size="29" fill="#000" stroke="#000" stroke-width="0.25">r</text><text transform="translate(597.76,0.0) scale(0.720,1.0)" font-family="Liberation Sans" font-size="29" fill="#000" stroke="#000" stroke-width="0.25">e</text><text transform="translate(611.91,0.0) scale(0.901,1.0)" font-family="Liberation Sans" font-size="29" fill="#000" stroke="#000" stroke-width="0.25">n</text><text transform="translate(629.45,0.0) scale(1.050,1.0)" font-family="Liberation Sans" font-size="29" fill="#000" stroke="#000" stroke-width="0.25">t</text><text transform="translate(642.40,0.0) scale(0.720,1.0)" font-family="Liberation Sans" font-size="29" fill="#000" stroke="#000" stroke-width="0.25">a</text><rect x="659.15" y="-19.96" width="3.05" height="2.1" fill="#000"/><text transform="translate(659.65,0.0) scale(1.000,0.95)" font-family="Liberation Sans" font-size="29" fill="#000" stroke="#000" stroke-width="0.25">l</text></g><g transform="translate(0,112.5)"><text transform="translate(588.85,-2.6) scale(0.780,0.926)" font-family="Liberation Sans" font-size="29" fill="#000" stroke="#000" stroke-width="0.25">(</text><text transform="translate(600.17,0.0) scale(0.875,0.96)" font-family="Liberation Sans" font-size="29" fill="#000" stroke="#000" stroke-width="0.25">P</text><text transform="translate(620.62,-2.6) scale(0.780,0.926)" font-family="Liberation Sans" font-size="29" fill="#000" stroke="#000" stroke-width="0.25">)</text></g><g transform="translate(0,361.4)"><text transform="translate(254.99,0.0) scale(0.836,1.0)" font-family="Liberation Sans" font-size="29" fill="#000" stroke="#000" stroke-width="0.25">p</text><text transform="translate(271.98,0.0) scale(0.796,1.0)" font-family="Liberation Sans" font-size="29" fill="#000" stroke="#000" stroke-width="0.25">o</text><rect x="288.35" y="-19.96" width="2.85" height="2.1" fill="#000"/><text transform="translate(288.65,0.0) scale(1.000,0.95)" font-family="Liberation Sans" font-size="29" fill="#000" stroke="#000" stroke-width="0.25">l</text><rect x="299.85" y="-19.96" width="2.55" height="2.1" fill="#000"/><text transform="translate(299.85,0.0) scale(1.000,0.95)" font-family="Liberation Sans" font-size="29" fill="#000" stroke="#000" stroke-width="0.25">l</text><text transform="translate(311.13,0.0) scale(0.750,1.0)" font-family="Liberation Sans" font-size="29" fill="#000" stroke="#000" stroke-width="0.25">e</text><text transform="translate(326.09,0.0) scale(0.860,1.0)" font-family="Liberation Sans" font-size="29" fill="#000" stroke="#000" stroke-width="0.25">n</text></g><g transform="translate(0,230)"><text transform="translate(494.79,0.0) scale(0.741,1.0)" font-family="Liberation Sans" font-size="29" fill="#000" stroke="#000" stroke-width="0.25">F</text></g><g transform="translate(0,600)"><text transform="translate(494.79,0.0) scale(0.741,1.0)" font-family="Liberation Sans" font-size="29" fill="#000" stroke="#000" stroke-width="0.25">F</text></g><g transform="translate(0,81)"><text transform="translate(534.93,0.0) scale(0.836,1.0)" font-family="Liberation Sans" font-size="29" fill="#000" stroke="#000" stroke-width="0.25">g</text><text transform="translate(550.91,0.0) scale(0.845,1.0)" font-family="Liberation Sans" font-size="29" fill="#000" stroke="#000" stroke-width="0.25">e</text><text transform="translate(566.15,0.0) scale(0.933,1.0)" font-family="Liberation Sans" font-size="29" fill="#000" stroke="#000" stroke-width="0.25">n</text><text transform="translate(583.51,0.0) scale(0.845,1.0)" font-family="Liberation Sans" font-size="29" fill="#000" stroke="#000" stroke-width="0.25">e</text><text transform="translate(598.43,0.0) scale(1.120,1.0)" font-family="Liberation Sans" font-size="29" fill="#000" stroke="#000" stroke-width="0.25">r</text><text transform="translate(612.78,0.0) scale(0.785,1.0)" font-family="Liberation Sans" font-size="29" fill="#000" stroke="#000" stroke-width="0.25">a</text><text transform="translate(630.95,0.0) scale(1.050,1.0)" font-family="Liberation Sans" font-size="29" fill="#000" stroke="#000" stroke-width="0.25">t</text><text transform="translate(643.69,0.0) scale(1.000,0.95)" font-family="Liberation Sans" font-size="29" fill="#000" stroke="#000" stroke-width="0.25">i</text><text transform="translate(653.26,0.0) scale(0.811,1.0)" font-family="Liberation Sans" font-size="29" fill="#000" stroke="#000" stroke-width="0.25">o</text><text transform="translate(668.41,0.0) scale(0.958,1.0)" font-family="Liberation Sans" font-size="29" fill="#000" stroke="#000" stroke-width="0.25">n</text></g><g transform="translate(0,230)"><text transform="translate(535.63,0.0) scale(0.836,1.0)" font-family="Liberation Sans" font-size="29" fill="#000" stroke="#000" stroke-width="0.25">g</text><text transform="translate(551.61,0.0) scale(0.845,1.0)" font-family="Liberation Sans" font-size="29" fill="#000" stroke="#000" stroke-width="0.25">e</text><text transform="translate(566.85,0.0) scale(0.933,1.0)" font-family="Liberation Sans" font-size="29" fill="#000" stroke="#000" stroke-width="0.25">n</text><text transform="translate(584.21,0.0) scale(0.845,1.0)" font-family="Liberation Sans" font-size="29" fill="#000" stroke="#000" stroke-width="0.25">e</text><text transform="translate(599.13,0.0) scale(1.120,1.0)" font-family="Liberation Sans" font-size="29" fill="#000" stroke="#000" stroke-width="0.25">r</text><text transform="translate(613.48,0.0) scale(0.785,1.0)" font-family="Liberation Sans" font-size="29" fill="#000" stroke="#000" stroke-width="0.25">a</text><text transform="translate(631.65,0.0) scale(1.050,1.0)" font-family="Liberation Sans" font-size="29" fill="#000" stroke="#000" stroke-width="0.25">t</text><text transform="translate(644.39,0.0) scale(1.000,0.95)" font-family="Liberation Sans" font-size="29" fill="#000" stroke="#000" stroke-width="0.25">i</text><text transform="translate(653.96,0.0) scale(0.811,1.0)" font-family="Liberation Sans" font-size="29" fill="#000" stroke="#000" stroke-width="0.25">o</text><text transform="translate(669.11,0.0) scale(0.958,1.0)" font-family="Liberation Sans" font-size="29" fill="#000" stroke="#000" stroke-width="0.25">n</text></g><g transform="translate(0,600)"><text transform="translate(535.23,0.0) scale(0.836,1.0)" font-family="Liberation Sans" font-size="29" fill="#000" stroke="#000" stroke-width="0.25">g</text><text transform="translate(551.21,0.0) scale(0.845,1.0)" font-family="Liberation Sans" font-size="29" fill="#000" stroke="#000" stroke-width="0.25">e</text><text transform="translate(566.45,0.0) scale(0.933,1.0)" font-family="Liberation Sans" font-size="29" fill="#000" stroke="#000" stroke-width="0.25">n</text><text transform="translate(583.81,0.0) scale(0.845,1.0)" font-family="Liberation Sans" font-size="29" fill="#000" stroke="#000" stroke-width="0.25">e</text><text transform="translate(598.73,0.0) scale(1.120,1.0)" font-family="Liberation Sans" font-size="29" fill="#000" stroke="#000" stroke-width="0.25">r</text><text transform="translate(613.08,0.0) scale(0.785,1.0)" font-family="Liberation Sans" font-size="29" fill="#000" stroke="#000" stroke-width="0.25">a</text><text transform="translate(631.25,0.0) scale(1.050,1.0)" font-family="Liberation Sans" font-size="29" fill="#000" stroke="#000" stroke-width="0.25">t</text><text transform="translate(643.99,0.0) scale(1.000,0.95)" font-family="Liberation Sans" font-size="29" fill="#000" stroke="#000" stroke-width="0.25">i</text><text transform="translate(653.56,0.0) scale(0.811,1.0)" font-family="Liberation Sans" font-size="29" fill="#000" stroke="#000" stroke-width="0.25">o</text><text transform="translate(668.71,0.0) scale(0.958,1.0)" font-family="Liberation Sans" font-size="29" fill="#000" stroke="#000" stroke-width="0.25">n</text></g><g transform="translate(63,636) rotate(-90)"><text transform="translate(-0.25,0.0) scale(0.818,1.0)" font-family="Liberation Sans" font-size="29" fill="#000" stroke="#000" stroke-width="0.25">o</text><text transform="translate(16.88,0.0) scale(0.741,1.0)" font-family="Liberation Sans" font-size="29" fill="#000" stroke="#000" stroke-width="0.25">v</text><text transform="translate(31.17,0.0) scale(0.893,1.0)" font-family="Liberation Sans" font-size="29" fill="#000" stroke="#000" stroke-width="0.25">u</text><rect x="48.75" y="-19.96" width="2.65" height="2.1" fill="#000"/><text transform="translate(48.85,0.0) scale(1.000,0.95)" font-family="Liberation Sans" font-size="29" fill="#000" stroke="#000" stroke-width="0.25">l</text><text transform="translate(59.43,0.0) scale(0.830,1.0)" font-family="Liberation Sans" font-size="29" fill="#000" stroke="#000" stroke-width="0.25">e</text><text transform="translate(75.73,0.0) scale(0.894,1.0)" font-family="Liberation Sans" font-size="29" fill="#000" stroke="#000" stroke-width="0.25">s</text></g><g transform="translate(0,150)"><text transform="translate(163.91,0.0) scale(0.908,1.0)" font-family="Liberation Sans" font-style="italic" font-size="30" fill="#000" stroke="#fff" stroke-width="0.3">R</text><text transform="translate(182.41,0.0) scale(0.908,1.0)" font-family="Liberation Sans" font-style="italic" font-size="30" fill="#000" stroke="#fff" stroke-width="0.3">R</text></g><g transform="translate(0,580)"><text transform="translate(195.90,0.0) scale(0.918,1.0)" font-family="Liberation Sans" font-style="italic" font-size="30" fill="#000" stroke="#fff" stroke-width="0.3">R</text><text transform="translate(214.70,0.0) scale(0.918,1.0)" font-family="Liberation Sans" font-style="italic" font-size="30" fill="#000" stroke="#fff" stroke-width="0.3">R</text></g><g transform="translate(0,319)"><text transform="translate(278.51,0.0) scale(0.913,1.0)" font-family="Liberation Sans" font-style="italic" font-size="30" fill="#000" stroke="#fff" stroke-width="0.3">R</text></g><g transform="translate(0,580)"><text transform="translate(360.41,0.0) scale(0.913,1.0)" font-family="Liberation Sans" font-style="italic" font-size="30" fill="#000" stroke="#fff" stroke-width="0.3">R</text></g><g transform="translate(0,742.5)"><text transform="translate(198.41,0.0) scale(0.913,1.0)" font-family="Liberation Sans" font-style="italic" font-size="30" fill="#000" stroke="#fff" stroke-width="0.3">R</text></g><g transform="translate(0,411.3)"><text transform="translate(205.51,0.0) scale(0.913,1.0)" font-family="Liberation Sans" font-style="italic" font-size="30" fill="#000" stroke="#fff" stroke-width="0.3">R</text></g><g transform="translate(0,521.3)"><text transform="translate(95.51,0.0) scale(0.913,1.0)" font-family="Liberation Sans" font-style="italic" font-size="30" fill="#000" stroke="#fff" stroke-width="0.3">R</text></g><g transform="translate(0,607.7)"><text transform="translate(507.21,0.0) scale(1.220,1.0)" font-family="Liberation Sans" font-size="20" fill="#000" stroke="#000" stroke-width="0.25">2</text></g><path d="M377.50,150.30 h2.5 v-6.9 h-2.5 Z M379.80,143.60 h2.3 v-9.1 h-2.3 Z" fill="#000"/><path d="M381.90,138.00 L386.20,138.00 L387.70,135.50 L391.10,135.50" fill="none" stroke="#000" stroke-width="1.9" stroke-linejoin="round"/><path d="M391.80,150.30 h2.5 v-6.9 h-2.5 Z M394.10,143.60 h2.3 v-9.1 h-2.3 Z" fill="#000"/><path d="M396.20,138.00 L400.50,138.00 L402.00,135.50 L405.40,135.50" fill="none" stroke="#000" stroke-width="1.9" stroke-linejoin="round"/><path d="M298.00,319.30 h2.5 v-6.9 h-2.5 Z M300.30,312.60 h2.3 v-9.1 h-2.3 Z" fill="#000"/><path d="M302.40,307.00 L306.70,307.00 L308.20,304.50 L311.60,304.50" fill="none" stroke="#000" stroke-width="1.9" stroke-linejoin="round"/><path d="M380.30,580.30 h2.5 v-6.9 h-2.5 Z M382.60,573.60 h2.3 v-9.1 h-2.3 Z" fill="#000"/><path d="M384.70,568.00 L389.00,568.00 L390.50,565.50 L393.90,565.50" fill="none" stroke="#000" stroke-width="1.9" stroke-linejoin="round"/><path d="M217.80,742.80 h2.5 v-6.9 h-2.5 Z M220.10,736.10 h2.3 v-9.1 h-2.3 Z" fill="#000"/><path d="M222.20,730.50 L226.50,730.50 L228.00,728.00 L231.40,728.00" fill="none" stroke="#000" stroke-width="1.9" stroke-linejoin="round"/><path d="M364.00,742.80 h2.5 v-6.9 h-2.5 Z M366.30,736.10 h2.3 v-9.1 h-2.3 Z" fill="#000"/><path d="M368.40,730.50 L372.70,730.50 L374.20,728.00 L377.60,728.00" fill="none" stroke="#000" stroke-width="1.9" stroke-linejoin="round"/><path d="M377.80,742.80 h2.5 v-6.9 h-2.5 Z M380.10,736.10 h2.3 v-9.1 h-2.3 Z" fill="#000"/><path d="M382.20,730.50 L386.50,730.50 L388.00,728.00 L391.40,728.00" fill="none" stroke="#000" stroke-width="1.9" stroke-linejoin="round"/><path d="M370.90,411.60 h2.5 v-6.9 h-2.5 Z M373.20,404.90 h2.3 v-9.1 h-2.3 Z" fill="#000"/><path d="M375.30,399.30 L379.60,399.30 L381.10,396.80 L384.50,396.80" fill="none" stroke="#000" stroke-width="1.9" stroke-linejoin="round"/><path d="M98.70,681.60 h2.5 v-6.9 h-2.5 Z M101.00,674.90 h2.3 v-9.1 h-2.3 Z" fill="#000"/><path d="M103.10,669.30 L107.40,669.30 L108.90,666.80 L112.30,666.80" fill="none" stroke="#000" stroke-width="1.9" stroke-linejoin="round"/><path d="M513.6,222.9 h2.5 v14 h-2.5 Z M510.6,225.2 l3.2,-2.4 l0.9,1.6 l-3.2,2.4 Z" fill="#000"/></svg><div id="bl"></div></body></html>
